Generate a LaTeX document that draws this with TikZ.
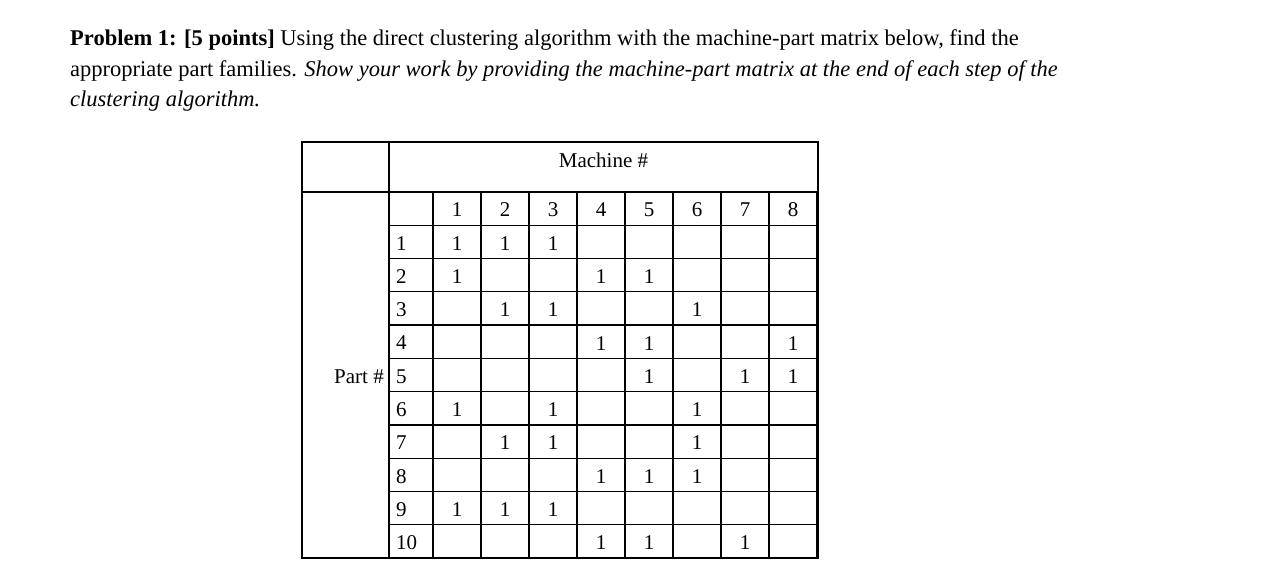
\documentclass[tikz,border=0pt]{standalone}
\usepackage{fontspec}
\setmainfont{Liberation Serif}
\begin{document}
\begin{tikzpicture}[x=1pt,y=-1pt,
  txt/.style={anchor=base west,inner sep=0pt,font=\fontsize{22.5}{27}\selectfont},
  cell/.style={inner sep=0pt,font=\fontsize{21}{25}\selectfont},
  grid/.style={line width=1.3pt}]
\useasboundingbox (0,0) rectangle (1264,581);
\node[txt] (l1) at (70,45) {\textbf{Problem 1: [5 points]} Using the direct clustering algorithm with the machine-part matrix below, find the};
\node[txt] (l2) at (70,76) {appropriate part families. \textit{Show your work by providing the machine-part matrix at the end of each step of the}};
\node[txt] (l3) at (70,106) {\textit{clustering algorithm.}};
% grid
\draw[grid] (302,142) rectangle (818,558);
\draw[grid] (302,192) -- (818,192);
\draw[grid] (389,142) -- (389,558);
\foreach \i in {0,...,8} \draw[grid] ({433+48*\i},192) -- ({433+48*\i},558);
\foreach \j in {1,...,10} \draw[grid] (389,{192+33.27*\j}) -- (818,{192+33.27*\j});
\node[cell] (mh) at (603.5,160) {Machine \#};
\node[cell,anchor=east] (ph) at (384,377) {Part \#};
\foreach \i in {1,...,8} \node[cell] (c\i) at ({433+48*\i-24},210) {\i};
\foreach \j in {1,...,10} \node[cell,anchor=west] (r\j) at (396,{210+33.27*\j}) {\j};
\foreach \r/\c in {1/1,1/2,1/3, 2/1,2/4,2/5, 3/2,3/3,3/6, 4/4,4/5,4/8, 5/5,5/7,5/8, 6/1,6/3,6/6, 7/2,7/3,7/6, 8/4,8/5,8/6, 9/1,9/2,9/3, 10/4,10/5,10/7}
  \node[cell] (m\r-\c) at ({433+48*\c-24},{210+33.27*\r}) {1};
\end{tikzpicture}
\end{document}
